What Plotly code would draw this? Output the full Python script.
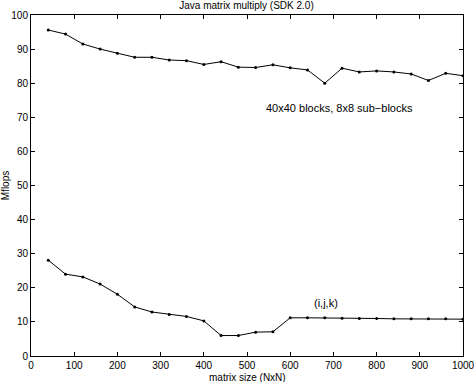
import plotly.graph_objects as go

sizes = [40, 80, 120, 160, 200, 240, 280, 320, 360, 400, 440, 480, 520,
         560, 600, 640, 680, 720, 760, 800, 840, 880, 920, 960, 1000]
blocked = [95.6, 94.4, 91.5, 90.0, 88.8, 87.6, 87.6, 86.8, 86.6, 85.5, 86.3, 84.7, 84.6,
           85.4, 84.5, 83.9, 80.0, 84.4, 83.3, 83.6, 83.3, 82.7, 80.8, 82.9, 82.2]
ijk = [28.1, 24.0, 23.2, 21.1, 18.1, 14.4, 12.9, 12.2, 11.6, 10.3, 6.0, 6.0, 7.0,
       7.1, 11.2, 11.2, 11.2, 11.1, 11.0, 11.0, 10.9, 10.9, 10.9, 10.9, 10.8]

labels = ["40x40 blocks, 8x8 sub\u2212blocks", "(i,j,k)"]
label_x = [715, 684]
label_y = [72.8, 15.4]

FONT = "Liberation Sans, Arial, sans-serif"

fig = go.Figure()
for ys in (blocked, ijk):
    fig.add_trace(go.Scatter(
        x=sizes, y=ys, mode="lines+markers",
        line=dict(color="black", width=1),
        marker=dict(color="black", size=3),
        showlegend=False,
    ))

for t, x, y in zip(labels, label_x, label_y):
    fig.add_annotation(x=x, y=y, text=t, showarrow=False,
                       font=dict(family=FONT, size=11, color="black"))

# x-axis title placed at the bottom edge of the figure
fig.add_annotation(text="matrix size (NxN)", xref="paper", yref="paper",
                   x=0.5, y=-26 / 341, xanchor="center", yanchor="bottom",
                   yshift=-2, showarrow=False, borderpad=0,
                   font=dict(family=FONT, size=10, color="black"))

axis_common = dict(
    showline=True, linecolor="black", linewidth=1, mirror="ticks",
    ticks="inside", ticklen=4, tickcolor="black", showgrid=False, zeroline=False,
    tickfont=dict(family=FONT, size=10, color="black"),
    ticklabeloverflow="allow", automargin=False,
)

fig.update_xaxes(range=[0, 1000], tickvals=list(range(0, 1001, 100)),
                 ticklabelstandoff=0, **axis_common)
fig.update_yaxes(range=[0, 100], tickvals=list(range(0, 101, 10)),
                 title=dict(text="Mflops", font=dict(family=FONT, size=10, color="black")),
                 **axis_common)

fig.update_layout(
    width=474, height=382,
    margin=dict(l=31, r=11, t=15, b=26),
    plot_bgcolor="white", paper_bgcolor="white",
    title=dict(text="Java matrix multiply (SDK 2.0)", x=0.52, xanchor="center",
               y=0.995, yanchor="top",
               font=dict(family=FONT, size=10, color="black")),
)

fig.write_html("out.html")
